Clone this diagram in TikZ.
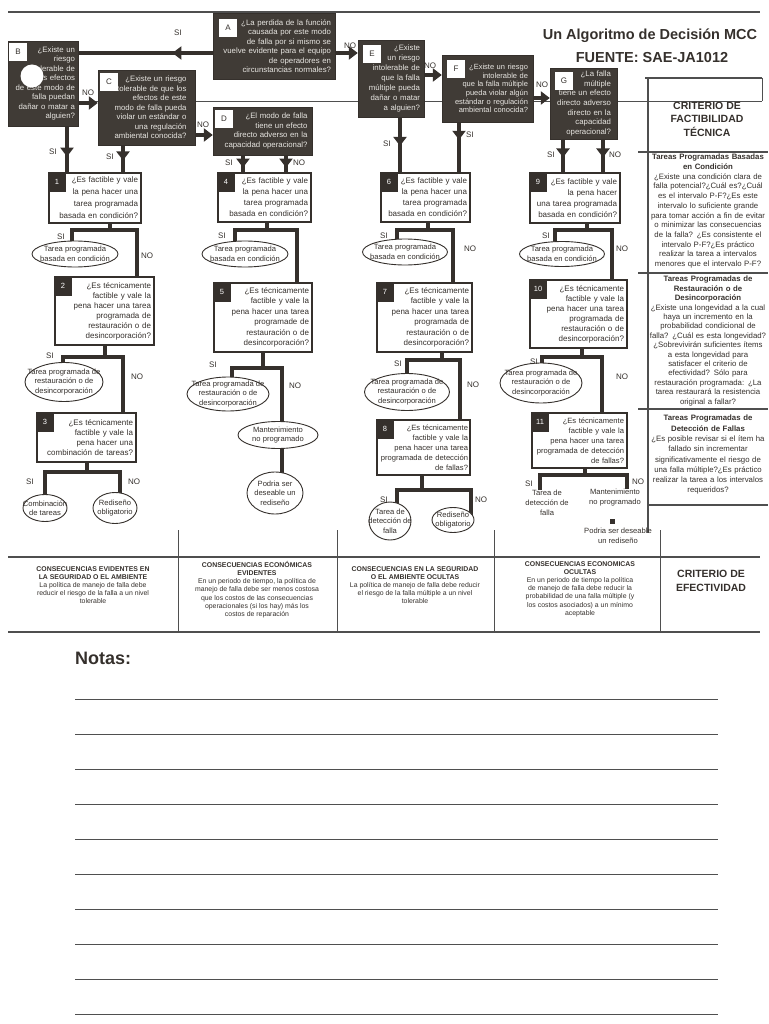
\documentclass[tikz,border=0pt]{standalone}
\usepackage{fontspec}
\setmainfont{Liberation Sans}
\usetikzlibrary{arrows.meta,decorations.markings,shapes.geometric}
\pgfdeclarelayer{bg}
\pgfsetlayers{bg,main}
\definecolor{ink}{HTML}{35302C}
\definecolor{boxfill}{HTML}{403B36}
\definecolor{boxtext}{HTML}{E8E6E2}
\definecolor{rulec}{HTML}{4F4F4F}
\tikzset{
  dbox/.style={draw=ink, fill=boxfill, text=boxtext, inner sep=0pt, align=right,
    font=\fontsize{7.8}{9.5}\selectfont},
  nbox/.style={draw=ink, line width=1.3pt, fill=white, text=ink, inner sep=0pt,
    align=right, font=\fontsize{8}{10}\selectfont},
  lsq/.style={fill=white, text=ink, minimum width=18pt, minimum height=18pt,
    inner sep=0pt, anchor=north west, font=\fontsize{8}{8}\selectfont},
  nsq/.style={fill=ink, text=white, minimum width=17pt, minimum height=19pt,
    inner sep=0pt, anchor=north west, font=\fontsize{7.5}{8}\selectfont},
  ell/.style={ellipse, draw=ink, line width=0.9pt, fill=white, text=ink,
    inner sep=-30pt, align=center, font=\fontsize{7.6}{9.5}\selectfont},
  plain/.style={text=ink, inner sep=0pt, align=center,
    font=\fontsize{7.6}{10}\selectfont},
  flow/.style={draw=ink, line width=4.8pt},
  arr/.style={flow, -{Triangle[length=9pt,width=13pt]}},
  midarr/.style={flow, postaction={decorate}, decoration={markings,
    mark=at position #1 with {\arrow{Triangle[length=9pt,width=13pt]}}}},
  yn/.style={text=ink, inner sep=0pt, font=\fontsize{8}{8}\selectfont},
  sep/.style={draw=rulec, line width=1.5pt},
  thin/.style={draw=rulec, line width=0.8pt},
  ptext/.style={text=ink, inner sep=0pt, align=center, text width=120pt, anchor=north},
  band/.style={text=ink, inner sep=0pt, align=center, anchor=north,
    font=\fontsize{6.9}{8.2}\selectfont},
  crit/.style={text=ink, inner sep=0pt, align=center,
    font=\fontsize{10.5}{13.5}\selectfont\bfseries},
}
\begin{document}
\begin{tikzpicture}[x=1pt,y=-1pt]
\useasboundingbox (0,0) rectangle (768,1024);

% ---------- title ----------
\node[text=ink, inner sep=0pt, font=\fontsize{14.5}{16}\selectfont\bfseries] (title1) at (650,36) {Un Algoritmo de Decisión MCC};
\node[text=ink, inner sep=0pt, font=\fontsize{14.5}{16}\selectfont\bfseries] (title2) at (652,58) {FUENTE: SAE-JA1012};

% ---------- decision boxes ----------
\node[dbox, minimum width=122pt, minimum height=66pt, text width=114pt] (A) at (274,46)
 {¿La perdida de la función\\causada por este modo\\de falla por si mismo se\\vuelve evidente para el equipo\\de operadores en\\circunstancias normales?};
\node[dbox, minimum width=70pt, minimum height=85pt, text width=64pt] (B) at (43,83.5)
 {¿Existe un\\riesgo\\intolerable de\\que los efectos\\de este modo de\\falla puedan\\dañar o matar a\\alguien?};
\node[dbox, minimum width=97pt, minimum height=75pt, text width=80pt] (C) at (146.5,107.5)
 {¿Existe un riesgo\\intolerable de que los\\efectos de este\\modo de falla pueda\\violar un estándar o\\una regulación\\ambiental conocida?};
\node[dbox, minimum width=99pt, minimum height=48pt, text width=90pt] (D) at (262.5,131)
 {¿El modo de falla\\tiene un efecto\\directo adverso  en la\\capacidad operacional?};
\node[dbox, minimum width=66pt, minimum height=77pt, text width=58pt, font=\fontsize{7.8}{9.9}\selectfont] (E) at (391,78.5)
 {¿Existe\\un riesgo\\intolerable de\\que la falla\\múltiple pueda\\dañar o matar\\a alguien?};
\node[dbox, minimum width=91pt, minimum height=67pt, text width=81pt, font=\fontsize{7.5}{8.6}\selectfont] (F) at (487.5,88.5)
 {¿Existe un riesgo\\intolerable de\\que la falla múltiple\\pueda violar algún\\estándar o regulación\\ambiental conocida?};
\node[dbox, minimum width=67pt, minimum height=71pt, text width=55pt, font=\fontsize{7.8}{9.7}\selectfont] (G) at (583.5,103.5)
 {¿La falla\\múltiple\\tiene un efecto\\directo adverso\\directo en la\\capacidad\\operacional?};

\node[lsq] (Aq) at ([shift={(6,6)}]A.north west) {A};
\node[lsq] (Bq) at ([shift={(1,2)}]B.north west) {B};
\node[lsq] (Cq) at ([shift={(2,3)}]C.north west) {C};
\node[lsq] (Dq) at ([shift={(2,3)}]D.north west) {D};
\node[lsq] (Eq) at ([shift={(5,5)}]E.north west) {E};
\node[lsq] (Fq) at ([shift={(5,5)}]F.north west) {F};
\node[lsq] (Gq) at ([shift={(5,4)}]G.north west) {G};

% punch hole
\fill[white] (32,76) circle[radius=11.5pt];

% ---------- numbered boxes ----------
\node[nbox, minimum width=92pt, minimum height=50pt, text width=86pt, font=\fontsize{8}{12}\selectfont] (N1) at (95,198)
 {¿Es factible y vale\\la pena hacer  una\\tarea programada\\basada en condición?};
\node[nbox, minimum width=99pt, minimum height=68pt, text width=93pt] (N2) at (104.5,311)
 {¿Es técnicamente\\factible y vale la\\pena hacer una tarea\\programada de\\restauración o de\\desincorporación?};
\node[nbox, minimum width=99pt, minimum height=49pt, text width=93pt] (N3) at (86.5,437.5)
 {¿Es técnicamente\\factible y vale la\\pena hacer una\\combinación de tareas?};
\node[nbox, minimum width=93pt, minimum height=49pt, text width=87pt, font=\fontsize{8}{11}\selectfont] (N4) at (264.5,197.5)
 {¿Es factible y vale\\la pena hacer una\\tarea programada\\basada en condición?};
\node[nbox, minimum width=98pt, minimum height=69pt, text width=92pt, font=\fontsize{8}{10.5}\selectfont] (N5) at (263,317.5)
 {¿Es técnicamente\\factible y vale la\\pena hacer una tarea\\programade de\\restauración o de\\desincorporación?};
\node[nbox, minimum width=89pt, minimum height=49pt, text width=83pt, font=\fontsize{8}{11}\selectfont] (N6) at (425.5,197.5)
 {¿Es factible y vale\\la pena hacer una\\tarea programada\\basada en condición?};
\node[nbox, minimum width=95pt, minimum height=69pt, text width=89pt, font=\fontsize{8}{10.5}\selectfont] (N7) at (424.5,317.5)
 {¿Es técnicamente\\factible y vale la\\pena hacer una tarea\\programada de\\restauración o de\\desincorporación?};
\node[nbox, minimum width=93pt, minimum height=55pt, text width=89pt, font=\fontsize{7.6}{10}\selectfont] (N8) at (423.5,447.5)
 {¿Es técnicamente\\factible y vale la\\pena hacer una tarea\\programada de detección\\de fallas?};
\node[nbox, minimum width=90pt, minimum height=50pt, text width=84pt, font=\fontsize{8}{11}\selectfont] (N9) at (575,198)
 {¿Es factible y vale\\la pena hacer\\una tarea programada\\basada en condición?};
\node[nbox, minimum width=97pt, minimum height=68pt, text width=91pt] (N10) at (578.5,314)
 {¿Es técnicamente\\factible y vale la\\pena hacer una tarea\\programada de\\restauración o de\\desincorporación?};
\node[nbox, minimum width=95pt, minimum height=55pt, text width=89pt, font=\fontsize{7.6}{10}\selectfont] (N11) at (579.5,440.5)
 {¿Es técnicamente\\factible y vale la\\pena hacer una tarea\\programada de detección\\de fallas?};

\foreach \n in {1,...,11} { \node[nsq] (N\n q) at (N\n.north west) {\n}; }

% ---------- outcome ellipses ----------
\node[ell, minimum width=86pt, minimum height=26pt] (E1) at (75,254) {Tarea programada\\basada en condición};
\node[ell, minimum width=78pt, minimum height=39pt] (E2) at (64,382) {Tarea programada de\\restauración o de\\desincorporación};
\node[ell, minimum width=44pt, minimum height=27pt] (E3a) at (45,508) {Combinación\\de tareas};
\node[ell, minimum width=44pt, minimum height=31pt] (E3b) at (115,508) {Rediseño\\obligatorio};
\node[ell, minimum width=86pt, minimum height=26pt] (E4) at (245,254) {Tarea programada\\basada en condición};
\node[ell, minimum width=82pt, minimum height=34pt] (E5) at (228,394) {Tarea programada de\\restauración o de\\desincorporación};
\node[ell, minimum width=80pt, minimum height=27pt] (EM5) at (278,435) {Mantenimiento\\no programado};
\node[ell, minimum width=56pt, minimum height=42pt] (EP5) at (275,493) {Podria ser\\deseable un\\rediseño};
\node[ell, minimum width=85pt, minimum height=26pt] (E6) at (405,252) {Tarea programada\\basada en condición};
\node[ell, minimum width=85pt, minimum height=37pt] (E7) at (407,392) {Tarea programada de\\restauración o de\\desincorporación};
\node[ell, minimum width=42pt, minimum height=38pt] (E8a) at (390,521) {Tarea de\\detección de\\falla};
\node[ell, minimum width=42pt, minimum height=25pt] (E8b) at (453,520) {Rediseño\\obligatorio};
\node[ell, minimum width=85pt, minimum height=25pt] (E9) at (562,254) {Tarea programada\\basada en condición};
\node[ell, minimum width=82pt, minimum height=40pt] (E10) at (541,383) {Tarea programada de\\restauración o de\\desincorporación};
\node[plain] (T11a) at (547,503) {Tarea de\\detección de\\falla};
\node[plain] (T11b) at (615,498) {Mantenimiento\\no programado};
\node[fill=ink, minimum size=5pt, inner sep=0pt] (T11s) at (612,521) {};
\node[plain] (T11c) at (618,536) {Podria ser deseable\\un rediseño};

% ---------- SI / NO labels ----------
\node[yn] (yAB) at (178,33) {SI};
\node[yn] (yAE) at (350,46) {NO};
\node[yn] (yBC) at (88,93) {NO};
\node[yn] (yCD) at (203,125) {NO};
\node[yn] (yEF) at (430,66) {NO};
\node[yn] (yFG) at (542,85) {NO};
\node[yn] (yB1) at (53,152) {SI};
\node[yn] (yC1) at (110,157) {SI};
\node[yn] (yD1) at (229,163) {SI};
\node[yn] (yD2) at (299,163) {NO};
\node[yn] (yE1) at (387,144) {SI};
\node[yn] (yF1) at (470,135) {SI};
\node[yn] (yG1) at (551,155) {SI};
\node[yn] (yG2) at (615,155) {NO};
\node[yn] (y1s) at (61,237) {SI};
\node[yn] (y1n) at (147,256) {NO};
\node[yn] (y2s) at (50,356) {SI};
\node[yn] (y2n) at (137,377) {NO};
\node[yn] (y3s) at (30,482) {SI};
\node[yn] (y3n) at (134,482) {NO};
\node[yn] (y4s) at (222,236) {SI};
\node[yn] (y5s) at (213,365) {SI};
\node[yn] (y5n) at (295,386) {NO};
\node[yn] (y6s) at (384,236) {SI};
\node[yn] (y6n) at (470,249) {NO};
\node[yn] (y7s) at (398,364) {SI};
\node[yn] (y7n) at (473,385) {NO};
\node[yn] (y8s) at (384,500) {SI};
\node[yn] (y8n) at (481,500) {NO};
\node[yn] (y9s) at (546,236) {SI};
\node[yn] (y9n) at (622,249) {NO};
\node[yn] (y10s) at (534,362) {SI};
\node[yn] (y10n) at (622,377) {NO};
\node[yn] (y11s) at (529,484) {SI};
\node[yn] (y11n) at (638,482) {NO};

% ---------- criteria panel ----------
\node[crit] (critF) at (707,119) {CRITERIO DE\\FACTIBILIDAD\\TÉCNICA};
\node[ptext, font=\fontsize{7.8}{9.7}\selectfont] (p1) at (708,154)
 {\textbf{Tareas Programadas Basadas}\\\textbf{en Condición}\\¿Existe una condición clara de\\falla potencial?¿Cuál es?¿Cuál\\es el intervalo P-F?¿Es este\\intervalo lo suficiente grande\\para tomar acción a fin de evitar\\o minimizar las consecuencias\\de la falla? ¿Es consistente el\\intervalo P-F?¿Es práctico\\realizar la tarea a intervalos\\menores que el intervalo P-F?};
\node[ptext, font=\fontsize{7.8}{9.4}\selectfont] (p2) at (708,276)
 {\textbf{Tareas Programadas de}\\\textbf{Restauración o de}\\\textbf{Desincorporación}\\¿Existe una longevidad a la cual\\haya un incremento en la\\probabilidad condicional de\\falla? ¿Cuál es esta longevidad?\\¿Sobrevivirán suficientes ítems\\a esta longevidad para\\satisfacer el criterio de\\efectividad? Sólo para\\restauración programada: ¿La\\tarea restaurará la resistencia\\original a fallar?};
\node[ptext, font=\fontsize{7.8}{10.3}\selectfont] (p3) at (708,415)
 {\textbf{Tareas Programadas de}\\\textbf{Detección de Fallas}\\¿Es posible revisar si el ítem ha\\fallado sin incrementar\\significativamente el riesgo de\\una falla múltiple?¿Es práctico\\realizar la tarea a los intervalos\\requeridos?};

% ---------- consequences band ----------
\node[band] (c1) at (93,566) {\textbf{CONSECUENCIAS EVIDENTES EN}\\\textbf{LA SEGURIDAD O EL AMBIENTE}\\La política de manejo de falla debe\\reducir el riesgo de la falla a un nivel\\tolerable};
\node[band] (c2) at (257,561) {\textbf{CONSECUENCIAS ECONÓMICAS}\\\textbf{EVIDENTES}\\En un periodo de tiempo, la política de\\manejo de falla debe ser menos costosa\\que los costos de las consecuencias\\operacionales (si los hay) más los\\costos de reparación};
\node[band] (c3) at (415,566) {\textbf{CONSECUENCIAS EN LA SEGURIDAD}\\\textbf{O EL AMBIENTE OCULTAS}\\La política de manejo de falla debe reducir\\el riesgo de la falla múltiple a un nivel\\tolerable};
\node[band] (c4) at (580,561) {\textbf{CONSECUENCIAS ECONOMICAS}\\\textbf{OCULTAS}\\En un periodo de tiempo la política\\de manejo de falla debe reducir la\\probabilidad de una falla múltiple (y\\los costos asociados) a un mínimo\\aceptable};
\node[crit] (critE) at (711,581) {CRITERIO DE\\EFECTIVIDAD};

% ---------- notes ----------
\node[anchor=west, inner sep=0pt, text=ink, font=\fontsize{18}{18}\selectfont\bfseries] (notas) at (75,658) {Notas:};

% ---------- background: rules and connectors ----------
\begin{pgfonlayer}{bg}
\draw[sep] (8,12) -- (760,12);
\draw[thin] (8,101) -- (762,101);
\draw[sep] (645,78) -- (762,78);
\draw[thin] (762,78) -- (762,101);
\draw[thin, line width=1.1pt] (648,78) -- (648,533);
\draw[sep] (638,152) -- (768,152);
\draw[sep] (638,273) -- (768,273);
\draw[sep] (638,409) -- (768,409);
\draw[sep] (648,505) -- (768,505);
\draw[sep, line width=1.8pt] (8,557) -- (760,557);
\draw[sep, line width=1.8pt] (8,632) -- (760,632);
\foreach \xx in {178,337,494,660} { \draw[thin] (\xx,530) -- (\xx,632); }
\foreach \k in {0,...,9} { \draw[draw=rulec, line width=1pt] (75,699+35*\k) -- (718,699+35*\k); }

% horizontal decision arrows
\draw[midarr=0.30] (A.west |- 0,53) -- (B.east |- 0,53);
\draw[arr] (A.east |- 0,53) -- (E.west |- 0,53);
\draw[arr] (B.east |- 0,103) -- (C.west |- 0,103);
\draw[arr] (C.east |- 0,135) -- (D.west |- 0,135);
\draw[arr] (E.east |- 0,75) -- (F.west |- 0,75);
\draw[arr] (F.east |- 0,98) -- (G.west |- 0,98);

% vertical decision arrows
\draw[midarr=0.66] (67,0 |- B.south) -- (67,0 |- N1.north);
\draw[midarr=0.56] (123,0 |- C.south) -- (123,0 |- N1.north);
\draw[midarr=0.72] (243,0 |- D.south) -- (243,0 |- N4.north);
\draw[midarr=0.72] (286,0 |- D.south) -- (286,0 |- N4.north);
\draw[midarr=0.52] (400,0 |- E.south) -- (400,0 |- N6.north);
\draw[midarr=0.35] (459,0 |- F.south) -- (459,0 |- N6.north);
\draw[midarr=0.55] (563,0 |- G.south) -- (563,0 |- N9.north);
\draw[midarr=0.55] (603,0 |- G.south) -- (603,0 |- N9.north);

% branches
\coordinate (j1) at (110,230);
\draw[flow] (110,0 |- N1.south) -- (j1);
\draw[flow] (72,0 |- E1.center) |- (j1) -| (137,0 |- N2.north);
\coordinate (j2) at (105,357);
\draw[flow] (105,0 |- N2.south) -- (j2);
\draw[flow] (63,0 |- E2.center) |- (j2) -| (123,0 |- N3.north);
\coordinate (j3) at (87,472);
\draw[flow] (87,0 |- N3.south) -- (j3);
\draw[flow] (45,0 |- E3a.center) |- (j3) -| (120,0 |- E3b.center);

\coordinate (j4) at (267,230);
\draw[flow] (267,0 |- N4.south) -- (j4);
\draw[flow] (235,0 |- E4.center) |- (j4) -| (297,0 |- N5.north);
\coordinate (j5) at (263,368);
\draw[flow] (263,0 |- N5.south) -- (j5);
\draw[flow] (232,0 |- E5.center) |- (j5) -| (282,0 |- EM5.center);
\draw[flow] (282,0 |- EM5.center) -- (282,0 |- EP5.center);

\coordinate (j6) at (428,230);
\draw[flow] (428,0 |- N6.south) -- (j6);
\draw[flow] (397,0 |- E6.center) |- (j6) -| (453,0 |- N7.north);
\coordinate (j7) at (442,360);
\draw[flow] (442,0 |- N7.south) -- (j7);
\draw[flow] (407,0 |- E7.center) |- (j7) -| (460,0 |- N8.north);
\coordinate (j8) at (422,490);
\draw[flow] (422,0 |- N8.south) -- (j8);
\draw[flow] (397,0 |- E8a.center) |- (j8) -| (471,0 |- E8b.center);

\coordinate (j9) at (587,230);
\draw[flow] (587,0 |- N9.south) -- (j9);
\draw[flow] (555,0 |- E9.center) |- (j9) -| (612,0 |- N10.north);
\coordinate (j10) at (582,357);
\draw[flow] (582,0 |- N10.south) -- (j10);
\draw[flow] (542,0 |- E10.center) |- (j10) -| (602,0 |- N11.north);
\coordinate (j11) at (585,475);
\draw[flow] (585,0 |- N11.south) -- (j11);
\draw[flow] (540,0 |- T11a.north) |- (j11) -| (627,0 |- T11b.north);
\end{pgfonlayer}
\end{tikzpicture}
\end{document}
